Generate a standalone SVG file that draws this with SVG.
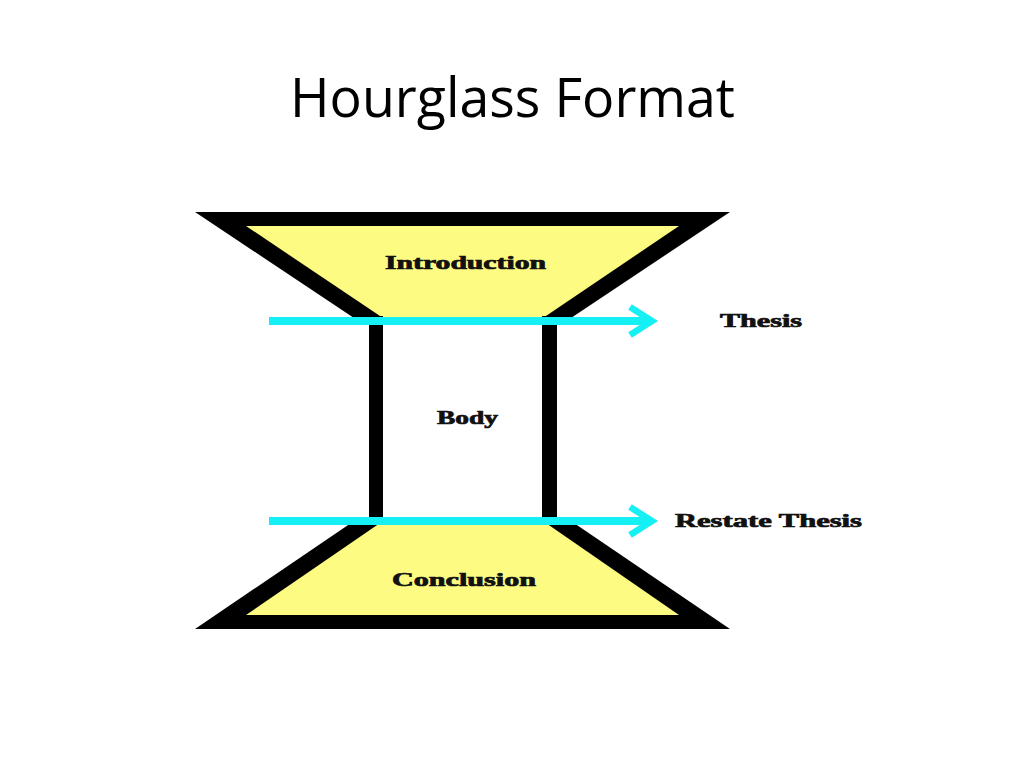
<svg xmlns="http://www.w3.org/2000/svg" width="1024" height="768" viewBox="0 0 1024 768">
  <style>
    .title { font-family: "Open Sans", "Liberation Sans", sans-serif; font-size: 54px; fill: #000; }
    .lbl { font-family: "Liberation Serif", "Times New Roman", serif; font-size: 18px; font-weight: bold; fill: #111; stroke: #111; stroke-width: 0.7; }
    .outer { fill: #000; }
    .inner { fill: #fdfb82; }
    .bar { fill: #000; }
    .conn { stroke: #14f0f4; stroke-width: 8; fill: none; marker-end: url(#chev); }
  </style>
  <defs>
    <marker id="chev" markerUnits="userSpaceOnUse" viewBox="-40 -25 50 50" markerWidth="50" markerHeight="50" refX="0" refY="0" orient="auto">
      <path d="M-22,-14 L0,0 L-22,14" fill="none" stroke="#14f0f4" stroke-width="6.5" stroke-linejoin="miter"/>
    </marker>
  </defs>
  <rect x="0" y="0" width="1024" height="768" fill="#ffffff"/>
  <text class="title" x="290" y="117" textLength="445" lengthAdjust="spacingAndGlyphs">Hourglass Format</text>

  <g id="introduction">
    <polygon class="outer" points="195,212 730,212 571,318 354,318"/>
    <polygon class="inner" points="246,226 679,226 543,318 383,318"/>
    <text class="lbl" x="385" y="269" textLength="161" lengthAdjust="spacingAndGlyphs">Introduction</text>
  </g>

  <g id="body">
    <rect class="bar" x="369" y="316" width="14" height="210"/>
    <rect class="bar" x="542" y="316" width="15" height="210"/>
    <text class="lbl" x="437" y="424" textLength="61" lengthAdjust="spacingAndGlyphs">Body</text>
  </g>

  <g id="conclusion">
    <polygon class="outer" points="354,521 571,521 730,629 195,629"/>
    <polygon class="inner" points="383,521 543,521 679,615 246,615"/>
    <text class="lbl" x="392" y="586" textLength="144" lengthAdjust="spacingAndGlyphs">Conclusion</text>
  </g>

  <g id="thesis">
    <text class="lbl" x="720" y="327" textLength="82" lengthAdjust="spacingAndGlyphs">Thesis</text>
  </g>

  <g id="restate-thesis">
    <text class="lbl" x="675" y="527" textLength="187" lengthAdjust="spacingAndGlyphs">Restate Thesis</text>
  </g>

  <g id="connectors">
    <line class="conn" x1="269" y1="321" x2="652" y2="321"/>
    <line class="conn" x1="269" y1="521" x2="652" y2="521"/>
  </g>
</svg>
